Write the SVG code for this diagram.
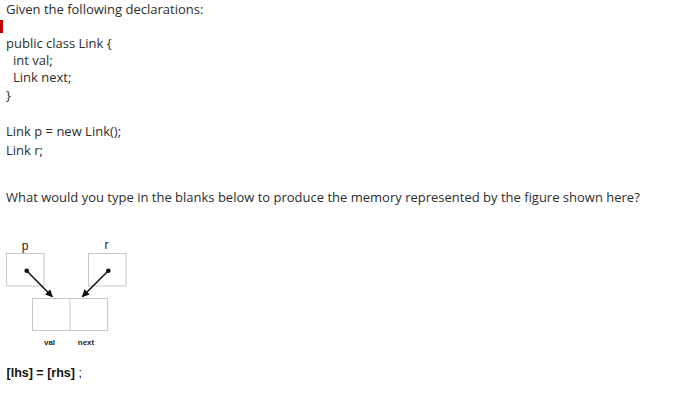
<svg xmlns="http://www.w3.org/2000/svg" width="675" height="409" viewBox="0 0 675 409">
<style>
.t{font-family:"Open Sans","Liberation Sans",sans-serif;font-size:13px;fill:#2d2d2d}
.box{fill:#fff;stroke:#c8c8c8;stroke-width:1}
.lbl{font-family:"Liberation Sans",Arial,sans-serif;fill:#222}
.conn{stroke:#111;stroke-width:1.5;fill:none}
</style>
<defs>
<marker id="ah" viewBox="0 0 10 10" refX="9" refY="5" markerWidth="5" markerHeight="5" orient="auto" markerUnits="strokeWidth">
<path d="M0,0 L10,5 L0,10 z" fill="#111"/>
</marker>
</defs>
<rect width="675" height="409" fill="#fff"/>
<rect x="0" y="20" width="3" height="13" fill="#c00000"/>
<g id="text">
<text class="t" x="6" y="14">Given the following declarations:</text>
<text class="t" x="6" y="48">public class Link {</text>
<text class="t" x="13" y="65">int val;</text>
<text class="t" x="13" y="82">Link next;</text>
<text class="t" x="6" y="100">}</text>
<text class="t" x="6" y="136">Link p = new Link();</text>
<text class="t" x="6" y="155">Link r;</text>
<text class="t" x="6" y="202">What would you type in the blanks below to produce the memory represented by the figure shown here?</text>
<text x="6.5" y="377" font-family="Liberation Sans, Arial, sans-serif" font-size="12.5" fill="#111"><tspan font-weight="bold">[lhs] = [rhs]</tspan> ;</text>
</g>
<g id="node-p">
<rect class="box" x="6.5" y="253.5" width="37.5" height="32.5"/>
<text class="lbl" x="25" y="250" font-size="12" text-anchor="middle">p</text>
</g>
<g id="node-r">
<rect class="box" x="88.5" y="253.5" width="37.5" height="32.5"/>
<text class="lbl" x="106.5" y="248.5" font-size="12" text-anchor="middle">r</text>
</g>
<g id="node-link">
<rect class="box" x="32.5" y="298.5" width="75" height="32"/>
<line x1="70" y1="298.5" x2="70" y2="330.5" stroke="#c8c8c8"/>
<text class="lbl" x="49.5" y="345" font-size="8" font-weight="bold" text-anchor="middle">val</text>
<text class="lbl" x="86" y="345" font-size="8" font-weight="bold" text-anchor="middle">next</text>
</g>
<g id="connectors">
<circle cx="26.7" cy="270.7" r="2.3" fill="#111"/>
<circle cx="108.3" cy="270.7" r="2.3" fill="#111"/>
<line class="conn" x1="26.7" y1="270.7" x2="52.3" y2="296.7" marker-end="url(#ah)"/>
<line class="conn" x1="108.3" y1="270.7" x2="82.3" y2="296.7" marker-end="url(#ah)"/>
</g>
</svg>
